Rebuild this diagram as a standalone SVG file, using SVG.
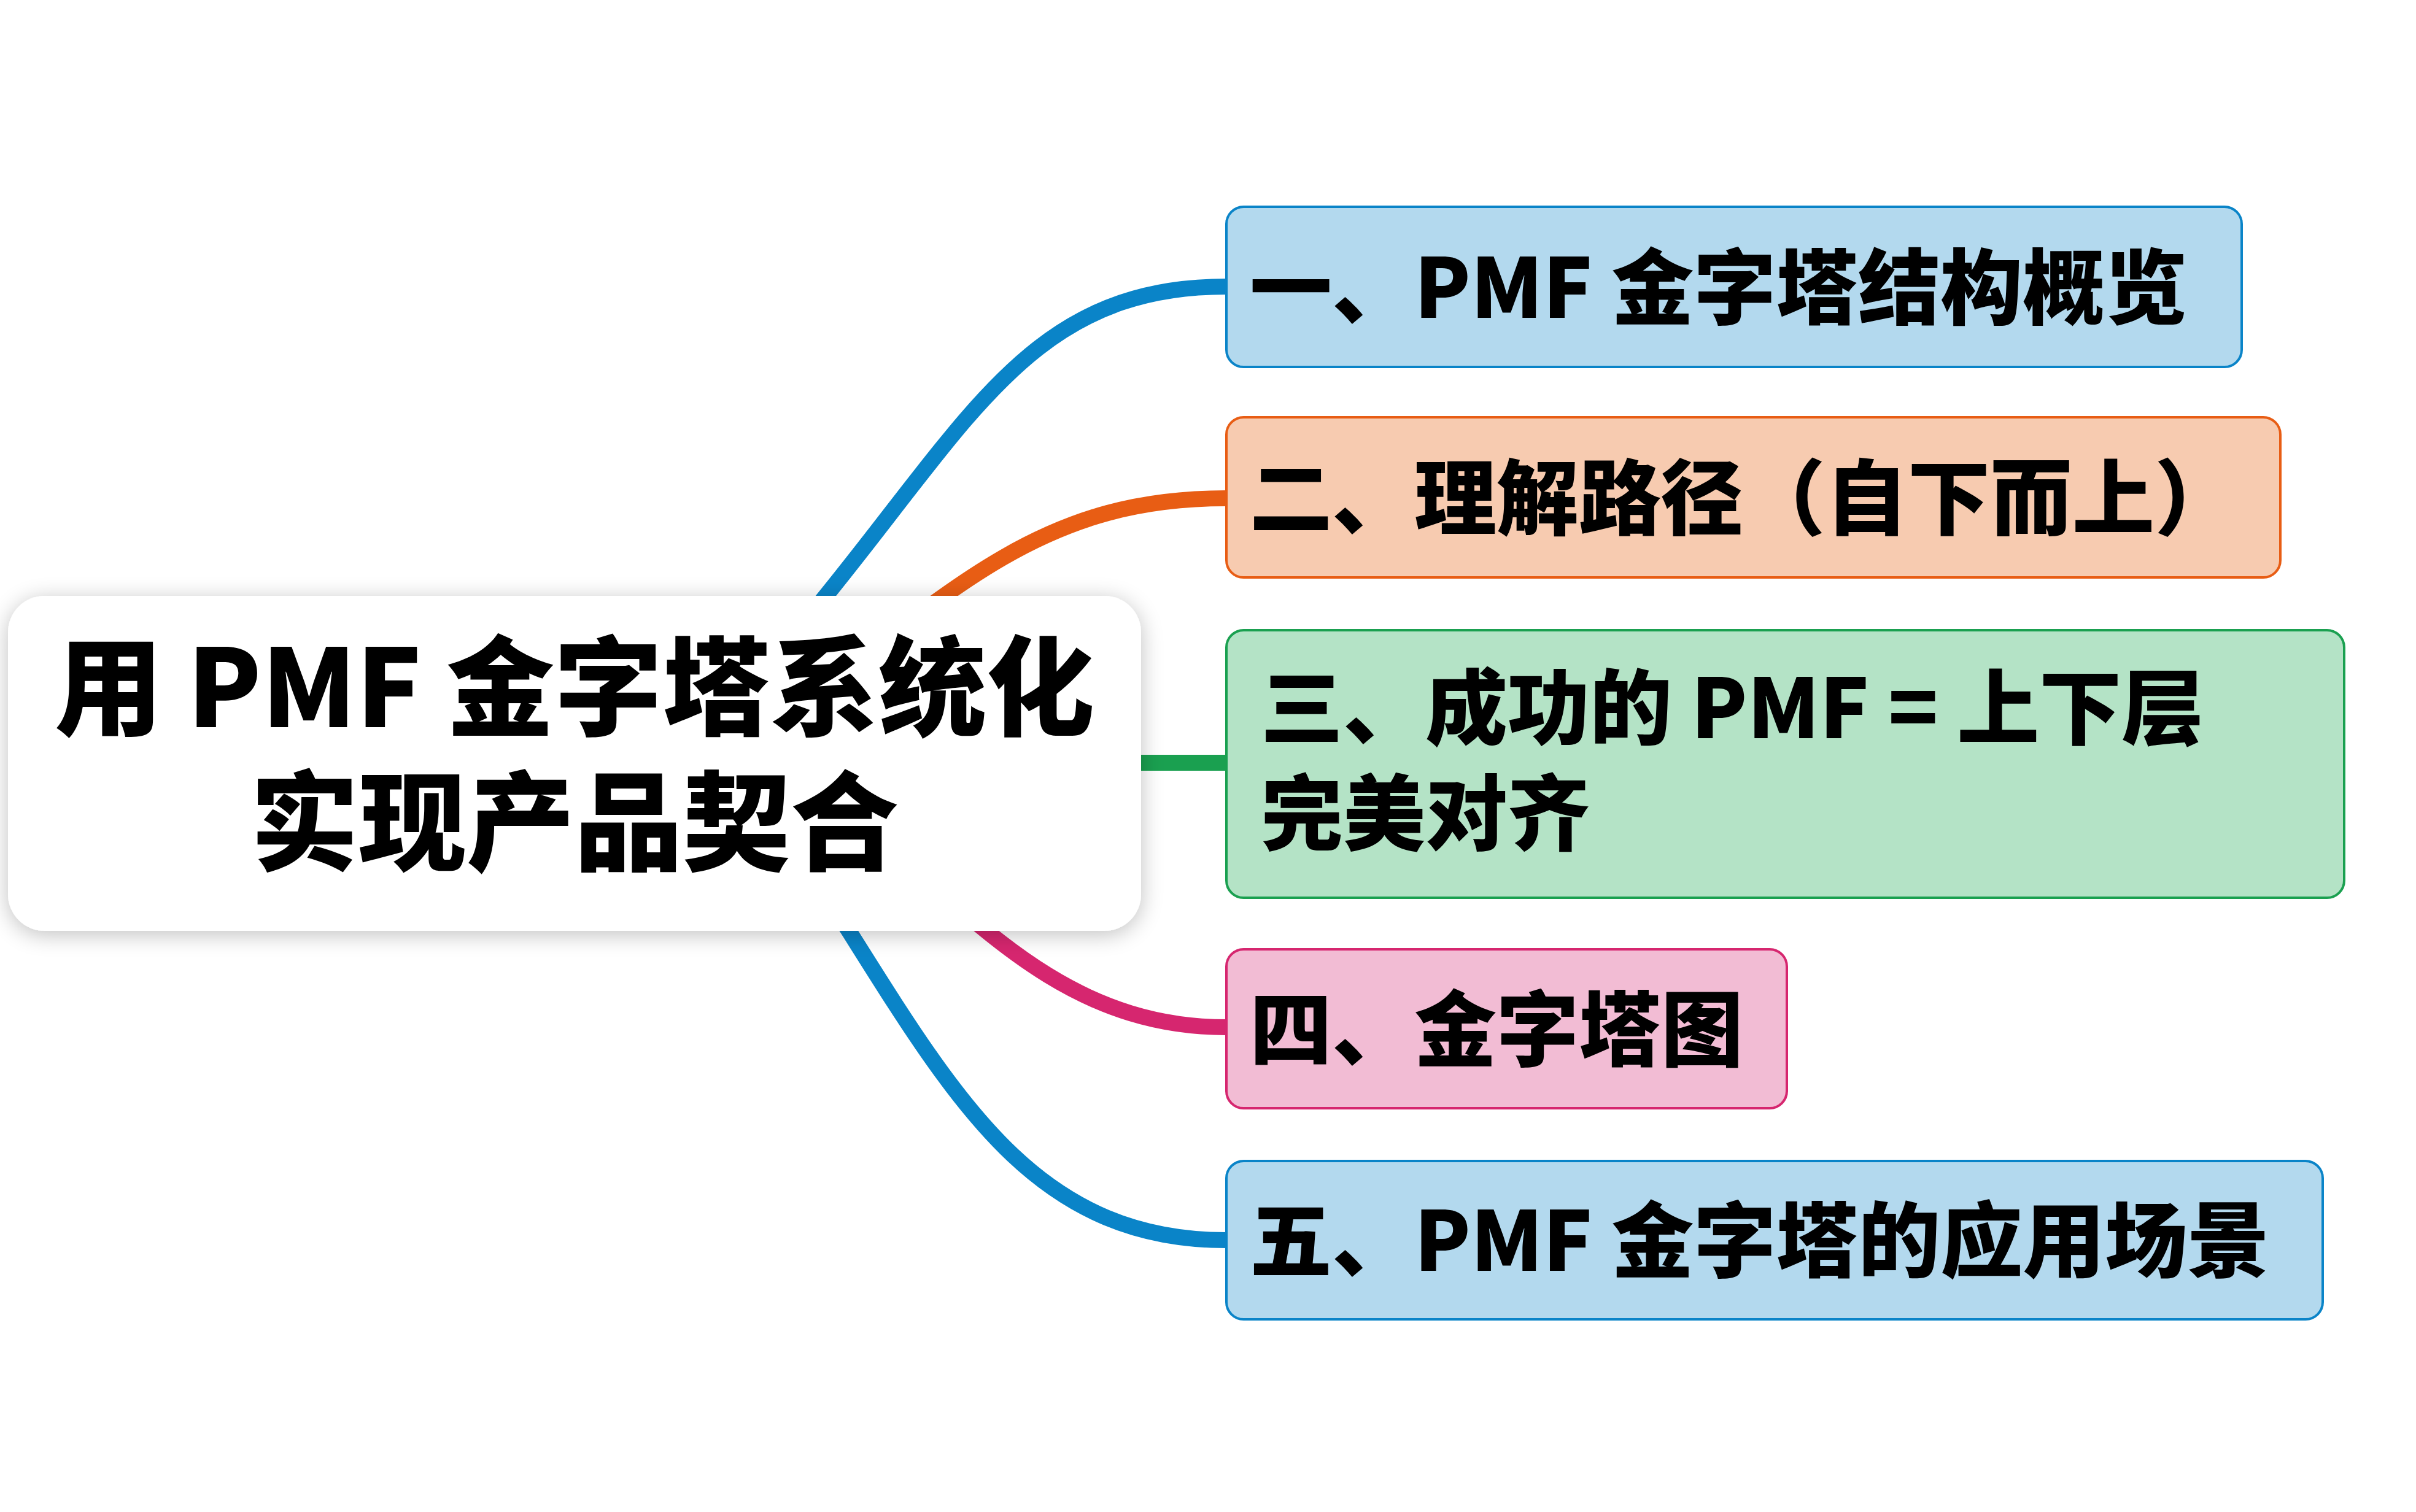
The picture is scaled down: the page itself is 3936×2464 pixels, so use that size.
<svg xmlns="http://www.w3.org/2000/svg" width="3936" height="2464" viewBox="0 0 3936 2464">
<style>
.t{font-family:"Noto Sans CJK SC","Noto Sans",sans-serif;font-weight:900;fill:#000}
.c{fill:none;stroke-width:26;stroke-linecap:round}
.n{stroke-width:4}
</style>
<defs><filter id="sh" x="-10%" y="-20%" width="120%" height="140%"><feGaussianBlur in="SourceAlpha" stdDeviation="18"/><feOffset dx="0" dy="6"/><feComponentTransfer><feFuncA type="linear" slope="0.25"/></feComponentTransfer><feMerge><feMergeNode/><feMergeNode in="SourceGraphic"/></feMerge></filter></defs>
<rect width="3936" height="2464" fill="#fff"/>
<g id="connectors">
<path class="c" stroke="#0a84c8" d="M1100 1244 C1550 800 1600 467 1998 467"/>
<path class="c" stroke="#e85d14" d="M1200 1244 C1550 950 1700 812 1998 812"/>
<path class="c" stroke="#1aa050" d="M1700 1243 L1998 1243"/>
<path class="c" stroke="#d6266f" d="M1300 1244 C1550 1450 1700 1674 1998 1674"/>
<path class="c" stroke="#0a84c8" d="M1200 1244 C1500 1650 1600 2021 1998 2021"/>
</g>
<g id="center">
<rect x="13" y="971" width="1846" height="546" rx="60" fill="#fff" filter="url(#sh)"/>
<text class="t" x="936" y="1185" font-size="176" text-anchor="middle">用 PMF 金字塔系统化</text>
<text class="t" x="936" y="1405" font-size="176" text-anchor="middle">实现产品契合</text>
</g>
<g id="n1"><rect class="n" x="1998" y="337" width="1654" height="261" rx="28" fill="#b3d9ee" stroke="#0a84c8"/><text class="t" x="2036" y="518" font-size="134">一、PMF 金字塔结构概览</text></g>
<g id="n2"><rect class="n" x="1998" y="680" width="1717" height="261" rx="28" fill="#f7cbb0" stroke="#e85d14"/><text class="t" x="2036" y="861" font-size="134">二、理解路径（自下而上）</text></g>
<g id="n3"><rect class="n" x="1998" y="1027" width="1821" height="436" rx="28" fill="#b4e3c6" stroke="#1aa050"/><text class="t" x="2054" y="1203" font-size="134">三、成功的 PMF = 上下层</text><text class="t" x="2054" y="1375" font-size="134">完美对齐</text></g>
<g id="n4"><rect class="n" x="1998" y="1547" width="913" height="259" rx="28" fill="#f2bcd4" stroke="#d6266f"/><text class="t" x="2036" y="1727" font-size="134">四、金字塔图</text></g>
<g id="n5"><rect class="n" x="1998" y="1892" width="1786" height="258" rx="28" fill="#b3d9ee" stroke="#0a84c8"/><text class="t" x="2036" y="2071" font-size="134">五、PMF 金字塔的应用场景</text></g>
</svg>
